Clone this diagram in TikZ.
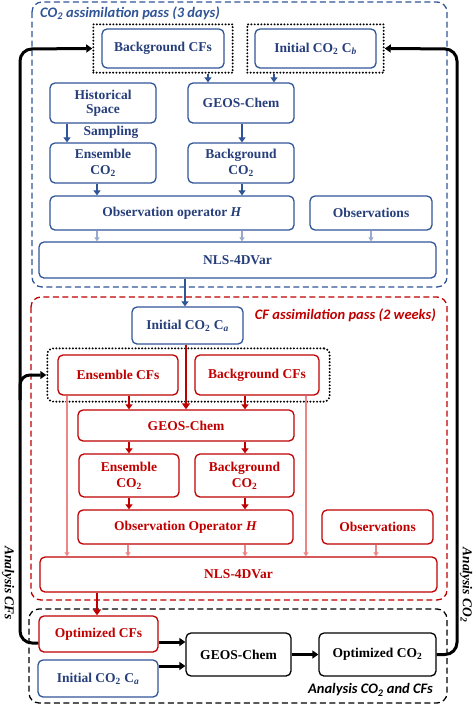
\documentclass[tikz,border=0pt]{standalone}
\usepackage{fontspec}
\setmainfont{Liberation Serif}
\newfontfamily\calfont{Carlito}
\usetikzlibrary{arrows.meta,fit,calc}
\definecolor{cblue}{RGB}{47,85,151}
\definecolor{tblue}{RGB}{38,62,122}
\definecolor{cred}{RGB}{192,0,0}
\definecolor{lblue}{RGB}{150,170,205}
\definecolor{lred}{RGB}{235,135,135}
\newcommand\sbs[1]{\textsubscript{#1}}
\begin{document}
\begin{tikzpicture}[x=1pt,y=-1pt,
  fs/.style={font=\fontsize{13.5}{16}\selectfont\bfseries},
  bx/.style={draw, rounded corners=5pt, line width=1.3pt, align=center, inner sep=0pt, fs},
  bb/.style={bx, draw=cblue, text=tblue},
  rb/.style={bx, draw=cred, text=cred},
  kb/.style={bx, draw=black, text=black},
  dotbox/.style={draw=black, line width=2.2pt, dash pattern=on 0pt off 3.3pt, line cap=round, inner sep=0pt},
  region/.style={line width=1.3pt, dash pattern=on 6pt off 3.5pt, rounded corners=10pt},
  ttl/.style={font=\calfont\fontsize{14.5}{16}\selectfont\bfseries\itshape, inner sep=0pt},
  barr/.style={draw=cblue, line width=1.9pt, -{Triangle[width=7pt,length=5pt]}},
  rarr/.style={draw=cred, line width=1.9pt, -{Triangle[width=7pt,length=5pt]}},
  rthick/.style={draw=cred, line width=2.5pt, -{Triangle[width=8pt,length=6pt]}},
  lbarr/.style={draw=lblue, line width=1.2pt, -{Triangle[width=5pt,length=4pt]}},
  lrarr/.style={draw=lred, line width=1.2pt, -{Triangle[width=5pt,length=4pt]}},
  karr/.style={draw=black, line width=3pt, -{Triangle[width=8pt,length=6pt]}},
  side/.style={font=\fontsize{13.5}{16}\selectfont\bfseries\itshape, inner sep=0pt, rotate=-90},
]
\useasboundingbox (0,0) rectangle (474,721);

% ---------- blue section ----------
\draw[region, draw=cblue] (32,2) rectangle (447,287);
\node[ttl, text=cblue, anchor=west] (t1) at (40,13) {CO\sbs{2} assimilation pass (3 days)};

\node[bb, minimum width=122pt, minimum height=39pt] (bgcf) at (163,48.5) {Background CFs};
\node[bb, minimum width=121pt, minimum height=39pt] (icb) at (315.5,48.5) {Initial CO\sbs{2} C\sbs{\textit{b}}};
\node[dotbox, fit=(bgcf), inner xsep=8pt, inner ysep=4pt] (dot1) {};
\node[dotbox, fit=(icb), inner xsep=7pt, inner ysep=4pt] (dot2) {};

\node[bb, minimum width=106pt, minimum height=40pt] (hist) at (103,103) {\raisebox{4pt}{\begin{tabular}{@{}c@{}}Historical\\[-2pt]Space\end{tabular}}};
\node[fs, text=tblue, inner sep=0pt] (samp) at (111,132) {Sampling};
\node[bb, minimum width=106pt, minimum height=40pt] (geos1) at (241,103) {GEOS-Chem};
\node[bb, minimum width=106pt, minimum height=40pt] (ens1) at (103,163) {Ensemble\\CO\sbs{2}};
\node[bb, minimum width=106pt, minimum height=40pt] (bco1) at (241,163) {Background\\CO\sbs{2}};
\node[bb, minimum width=244pt, minimum height=34pt] (obsop1) at (172,213) {Observation operator \textit{H}};
\node[bb, minimum width=122pt, minimum height=34pt] (obs1) at (371,213) {Observations};
\node[bb, minimum width=397pt, minimum height=36pt] (nls1) at (237.5,260) {NLS-4DVar};

\draw[barr] (208,0 |- dot1.south) -- (208,0 |- geos1.north);
\draw[barr] (274,0 |- dot2.south) -- (274,0 |- geos1.north);
\draw[barr] (67,0 |- hist.south) -- (67,0 |- ens1.north);
\draw[barr] (242,0 |- geos1.south) -- (242,0 |- bco1.north);
\draw[barr] (97,0 |- ens1.south) -- (97,0 |- obsop1.north);
\draw[barr] (242,0 |- bco1.south) -- (242,0 |- obsop1.north);
\draw[lbarr] (97,0 |- obsop1.south) -- (97,0 |- nls1.north);
\draw[lbarr] (242,0 |- obsop1.south) -- (242,0 |- nls1.north);
\draw[lbarr] (371,0 |- obs1.south) -- (371,0 |- nls1.north);

% ---------- red section ----------
\draw[region, draw=cred] (31,297) rectangle (447,600);
\node[ttl, text=cred, anchor=east] (t2) at (436,315) {CF assimilation pass (2 weeks)};

\node[bb, minimum width=111pt, minimum height=37pt] (ica1) at (187.5,325.5) {Initial CO\sbs{2} C\sbs{\textit{a}}};
\node[rb, minimum width=120pt, minimum height=40pt] (enscf) at (118,375) {Ensemble CFs};
\node[rb, minimum width=124pt, minimum height=40pt] (bgcf2) at (257,375) {Background CFs};
\node[dotbox, fit=(enscf)(bgcf2), inner xsep=10pt, inner ysep=6pt, rounded corners=6pt] (dot3) {};
\node[rb, minimum width=216pt, minimum height=31pt] (geos2) at (186,425.5) {GEOS-Chem};
\node[rb, minimum width=100pt, minimum height=43pt] (ens2) at (129,475.5) {Ensemble\\CO\sbs{2}};
\node[rb, minimum width=99pt, minimum height=43pt] (bco2) at (244.5,475.5) {Background\\CO\sbs{2}};
\node[rb, minimum width=215pt, minimum height=34pt] (obsop2) at (185.5,527) {Observation Operator \textit{H}};
\node[rb, minimum width=111pt, minimum height=34pt] (obs2) at (377.5,527) {Observations};
\node[rb, minimum width=397pt, minimum height=35pt] (nls2) at (238.5,574.5) {NLS-4DVar};

\draw[barr] (185,0 |- nls1.south) -- (185,0 |- ica1.north);
\draw[rthick] (186,0 |- ica1.south) -- (186,0 |- geos2.north);
\draw[rarr] (129,0 |- enscf.south) -- (129,0 |- geos2.north);
\draw[rarr] (245,0 |- bgcf2.south) -- (245,0 |- geos2.north);
\draw[rarr] (129,0 |- geos2.south) -- (129,0 |- ens2.north);
\draw[rarr] (245,0 |- geos2.south) -- (245,0 |- bco2.north);
\draw[rarr] (129,0 |- ens2.south) -- (129,0 |- obsop2.north);
\draw[rarr] (245,0 |- bco2.south) -- (245,0 |- obsop2.north);
\draw[lrarr] (67,0 |- enscf.south) -- (67,0 |- nls2.north);
\draw[lrarr] (306,0 |- bgcf2.south) -- (306,0 |- nls2.north);
\draw[lrarr] (128,0 |- obsop2.south) -- (128,0 |- nls2.north);
\draw[lrarr] (245,0 |- obsop2.south) -- (245,0 |- nls2.north);
\draw[lrarr] (376,0 |- obs2.south) -- (376,0 |- nls2.north);

% ---------- black section ----------
\draw[region, draw=black] (29,609) rectangle (447,703);
\node[rb, minimum width=119pt, minimum height=36pt] (optcf) at (98.5,634) {Optimized CFs};
\node[bb, minimum width=120pt, minimum height=37pt] (ica2) at (98,678.5) {Initial CO\sbs{2} C\sbs{\textit{a}}};
\node[kb, minimum width=105pt, minimum height=43pt] (geos3) at (238.5,654.5) {GEOS-Chem};
\node[kb, minimum width=117pt, minimum height=43pt] (optco2) at (377.5,654.5) {Optimized CO\sbs{2}};
\node[ttl, text=black, anchor=east] (t3) at (433,690) {Analysis CO\sbs{2} and CFs};

\draw[rthick] (97,0 |- nls2.south) -- (97,0 |- optcf.north);
\draw[karr] (optcf.east |- 0,642) -- (geos3.west |- 0,642);
\draw[karr] (ica2.east |- 0,666) -- (geos3.west |- 0,666);
\draw[karr] (geos3.east) -- (optco2.west);

% ---------- feedback loops ----------
\draw[karr, rounded corners=12pt] (optcf.west |- 0,643) -- (20,643) -- (20,49) -- (dot1.west);
\draw[karr, rounded corners=10pt] (20,400) -- (20,375) -- (dot3.west);
\draw[karr, rounded corners=12pt] (optco2.east) -- (457,654.5) -- (457,49) -- (dot2.east);

\node[side] (lblL) at (8,583) {Analysis CFs};
\node[side] (lblR) at (466,585) {Analysis CO\sbs{2}};
\end{tikzpicture}
\end{document}
